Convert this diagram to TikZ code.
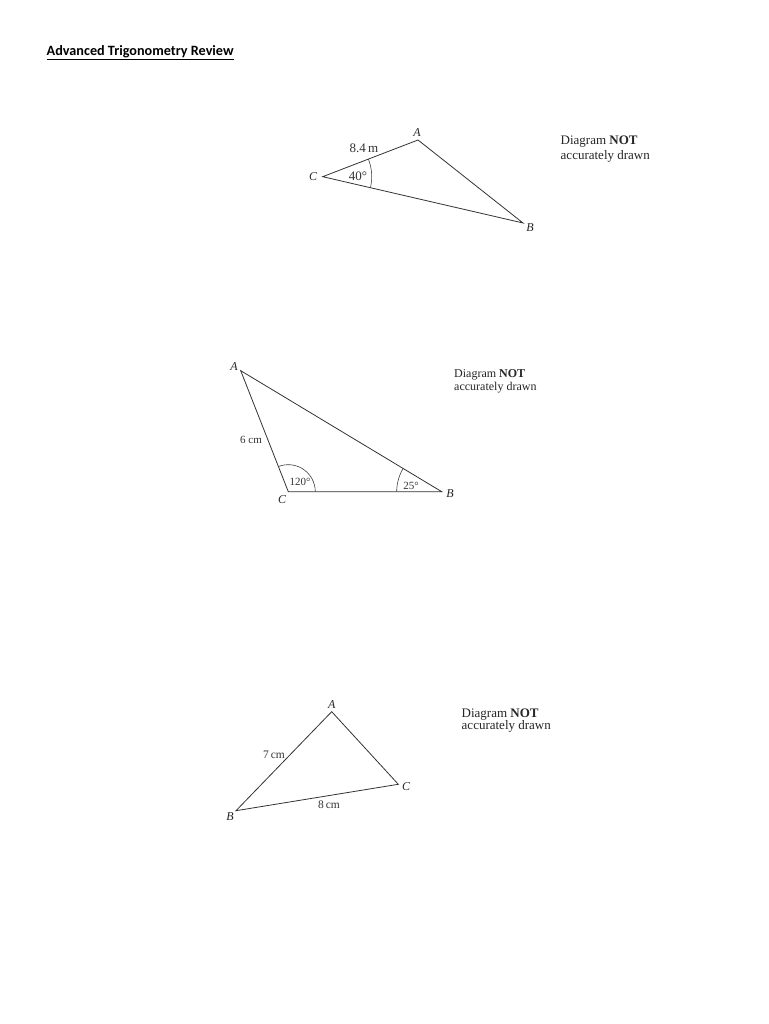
\documentclass[tikz,border=0pt]{standalone}
\usepackage{fontspec}
\setmainfont{Liberation Serif}
\newfontfamily\titlefont{Carlito}
\usetikzlibrary{angles,quotes}
\tikzset{
  edge/.style={draw=black!80, line width=0.8pt},
  arcline/.style={draw=black!75, line width=0.6pt},
  vlab/.style={font=\fontsize{12}{12}\selectfont\itshape, text=black!85, inner sep=0pt},
  mlab/.style={font=\fontsize{12}{12}\selectfont, text=black!80, inner sep=0pt},
  note/.style={font=\fontsize{#1}{#1}\selectfont, text=black!85, align=left, anchor=north west, inner sep=0pt},
}
\begin{document}
\begin{tikzpicture}[x=1pt,y=1pt]
\useasboundingbox[fill=white] (0,0) rectangle (768,1024);
% title
\node[anchor=west, inner sep=0pt, font=\titlefont\bfseries\fontsize{14.2}{14.2}\selectfont] (title) at (46.5,971) {\underline{Advanced Trigonometry Review}};

% ---------- Triangle 1 ----------
\coordinate (C1) at (322.7,847.3);
\coordinate (A1) at (418,884);
\coordinate (B1) at (523,801);
\draw[edge] (C1) -- (A1) -- (B1) -- cycle;
\pic[arcline, angle radius=49pt] {angle=B1--C1--A1};
\node[vlab] (lA1) at (417,891) {A};
\node[vlab] (lC1) at (313,847) {C};
\node[vlab] (lB1) at (530,796) {B};
\node[mlab, font=\fontsize{13}{13}\selectfont] (s1) at (364,876) {8.4\,m};
\node[mlab, font=\fontsize{13}{13}\selectfont] (g1) at (358,848) {40°};
\node[note=13] (n1) at (560.5,888.5) {Diagram \textbf{NOT}\\[2pt]accurately drawn};

% ---------- Triangle 2 ----------
\coordinate (A2) at (240.7,653.3);
\coordinate (C2) at (288.3,532.3);
\coordinate (B2) at (441.7,532.3);
\draw[edge] (A2) -- (C2) -- (B2) -- cycle;
\pic[arcline, angle radius=27pt] {angle=B2--C2--A2};
\pic[arcline, angle radius=45pt] {angle=A2--B2--C2};
\node[vlab] (lA2) at (234,657) {A};
\node[vlab] (lC2) at (282,524) {C};
\node[vlab] (lB2) at (450,530) {B};
\node[mlab, font=\fontsize{11}{11}\selectfont] (s2) at (251,584) {6 cm};
\node[mlab, font=\fontsize{11}{11}\selectfont] (g2) at (300,542.3) {120°};
\node[mlab, font=\fontsize{11}{11}\selectfont] (g3) at (411,538) {25°};
\node[note=12] (n2) at (454,655) {Diagram \textbf{NOT}\\[1pt]accurately drawn};

% ---------- Triangle 3 ----------
\coordinate (A3) at (331.7,312.3);
\coordinate (B3) at (236,213.3);
\coordinate (C3) at (398.3,239.7);
\draw[edge] (A3) -- (B3) -- (C3) -- cycle;
\node[vlab] (lA3) at (331.7,319) {A};
\node[vlab] (lB3) at (230,207) {B};
\node[vlab] (lC3) at (406,237) {C};
\node[mlab, font=\fontsize{11.5}{11.5}\selectfont] (s3) at (274,269) {7\,cm};
\node[mlab, font=\fontsize{11.5}{11.5}\selectfont] (s4) at (329,219) {8\,cm};
\node[note=13] (n3) at (461.5,315) {Diagram \textbf{NOT}\\[-1.5pt]accurately drawn};
\end{tikzpicture}
\end{document}
